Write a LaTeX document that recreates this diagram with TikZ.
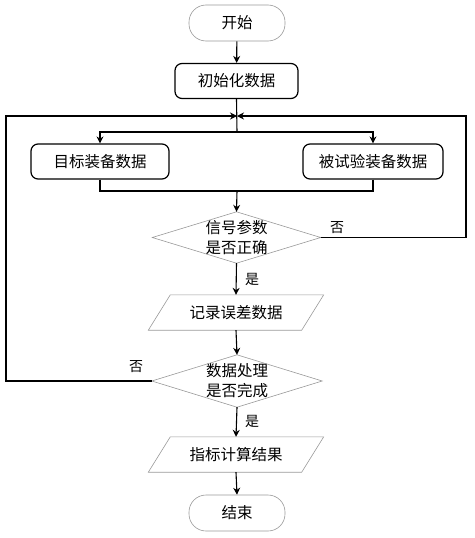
\documentclass[tikz,border=0pt]{standalone}
\usepackage{fontspec}
\setmainfont{Noto Sans CJK SC}
\usetikzlibrary{shapes.geometric,arrows.meta}
\begin{document}
\begin{tikzpicture}[x=1pt,y=-1pt,
  font=\fontsize{15.5}{20}\selectfont,
  term/.style={draw=gray!80,line width=0.6pt,rounded corners=17pt,minimum width=96pt,minimum height=36pt,inner sep=0pt},
  proc/.style={draw=black,line width=1.2pt,rounded corners=7pt,minimum height=35pt,inner sep=0pt},
  dec/.style={minimum width=168pt,minimum height=51pt,inner sep=0pt,align=center},
  io/.style={minimum width=175pt,minimum height=35pt,inner sep=0pt},
  para/.style={draw=gray!80,line width=0.6pt},
  line/.style={draw=black,line width=1.1pt},
  arr/.style={line,-{Stealth[length=7pt,width=7pt]}},
  lbl/.style={font=\fontsize{14}{16}\selectfont,inner sep=0pt}]
\useasboundingbox (0,0) rectangle (474,538);
\node[term] (start) at (237,23) {开始};
\node[proc,minimum width=123pt] (init) at (236.5,81) {初始化数据};
\node[proc,minimum width=138pt] (tgt) at (100,161.5) {目标装备数据};
\node[proc,minimum width=140pt] (test) at (373,161.5) {被试验装备数据};
\node[dec] (d1) at (236.5,237.5) {信号参数\\是否正确};
\node[io] (rec) at (236,312.5) {记录误差数据};
\node[dec,minimum width=170pt,minimum height=52pt] (d2) at (237,381) {数据处理\\是否完成};
\node[io] (res) at (236,454.5) {指标计算结果};
\node[term] (end) at (237,513) {结束};
\draw[para] (d1.north) -- (d1.east) -- (d1.south) -- (d1.west) -- cycle;
\draw[para] (d2.north) -- (d2.east) -- (d2.south) -- (d2.west) -- cycle;
\draw[para] ([xshift=22pt]rec.north west) -- (rec.north east) -- ([xshift=-22pt]rec.south east) -- (rec.south west) -- cycle;
\draw[para] ([xshift=22pt]res.north west) -- (res.north east) -- ([xshift=-22pt]res.south east) -- (res.south west) -- cycle;
\coordinate (j) at (237,116);
\coordinate (b) at (237,132);
\coordinate (m) at (237,191);
\draw[arr] (start) -- (init);
\draw[line] (init.south) -- (b);
\draw[arr] (b) -| (tgt.north);
\draw[arr] (b) -| (test.north);
\draw[line] (tgt.south) |- (m);
\draw[line] (test.south) |- (m);
\draw[arr] (m) -- (d1.north);
\draw[arr] (d1.east) -- (466,237.5) -- (466,116) -- (j);
\draw[arr] (d2.west) -- (6,381) -- (6,116) -- (j);
\draw[arr] (d1.south) -- (rec.north);
\draw[arr] (rec.south) -- (d2.north);
\draw[arr] (d2.south) -- (res.north);
\draw[arr] (res.south) -- (end.north);
\node[lbl] (yes1) at (252,279) {是};
\node[lbl] (yes2) at (252,421) {是};
\node[lbl] (no1) at (337,228) {否};
\node[lbl] (no2) at (136,367) {否};
\end{tikzpicture}
\end{document}
